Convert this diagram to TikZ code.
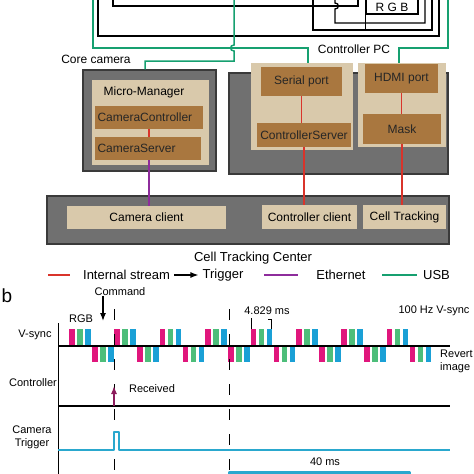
\documentclass[tikz,border=0pt]{standalone}
\usepackage{fontspec}
\setmainfont{Liberation Sans}
\usetikzlibrary{positioning,calc,arrows.meta}

\definecolor{boxgray}{HTML}{707070}
\definecolor{boxedge}{HTML}{3A3A3A}
\definecolor{beige}{HTML}{D9C9AB}
\definecolor{brownmod}{HTML}{A9773F}
\definecolor{usbgreen}{HTML}{16A070}
\definecolor{streamred}{HTML}{D9342B}
\definecolor{etherpurple}{HTML}{8E2C9C}
\definecolor{pulsemag}{HTML}{E0167C}
\definecolor{pulsegreen}{HTML}{4DBE7A}
\definecolor{pulseblue}{HTML}{1AA0D6}
\definecolor{trigcyan}{HTML}{2AA8CE}
\definecolor{recvpurple}{HTML}{8C1C5C}

\tikzset{
  sz/.style 2 args={minimum width=#1, minimum height=#2},
  darkbox/.style={draw=boxedge, fill=boxgray, line width=1.2pt, inner sep=0pt},
  panel/.style={fill=beige, inner sep=0pt},
  module/.style={fill=brownmod, inner sep=0pt, text=black!85, font=\fontsize{12}{14}\selectfont},
  lbl/.style={inner sep=0pt, font=\fontsize{12}{14}\selectfont},
  lgd/.style={inner sep=0pt, font=\fontsize{13}{15}\selectfont},
  tlbl/.style={inner sep=0pt, font=\fontsize{11}{13}\selectfont},
  wire/.style={line width=1.3pt},
  usb/.style={usbgreen, line width=1.5pt},
  internal/.style={streamred, line width=1.3pt},
  ether/.style={etherpurple, line width=1.6pt},
  trig/.style={trigcyan, line width=2pt, line join=round},
  marker/.style={line width=1pt, dash pattern=on 11pt off 14pt},
  tip/.style={-{Latex[length=8pt,width=6pt]}},
}

\begin{document}
\begin{tikzpicture}[x=1pt,y=-1pt]
\useasboundingbox (0,0) rectangle (474,474);

% wires to the light source (cut off at the top)
\node[draw, line width=1.3pt, inner sep=0pt, sz={52pt}{28pt}] (rgb) at (392,0) {};
\node[lbl] (rgbtxt) at (392,7) {R G B};
\coordinate (w2) at (313,30);
\draw[wire] (98,-6) -- (98,36) -- (439,36) -- (439,-6);
\draw[wire] (113,-6) -- (113,6) -- (358,6) -- (358,-6);
\draw[wire] (313,-6) -- (w2) -- (432,30) -- (432,-6);
\draw[wire] (335,-6) -- (335,3) .. controls (339.5,3) and (339.5,9) .. (335,9) -- (335,23) -- (425,23) -- (425,-6);
\draw[wire] (rgb.south west) -- (rgb.south west |- w2);

% Core camera
\node[lbl] (corelbl) at (96,59) {Core camera};
\node[darkbox, sz={133pt}{101pt}] (cambox) at (149.5,120.5) {};
\node[panel, sz={117pt}{85pt}] (mmpanel) at (150.5,122.5) {};
\node[lbl] (mm) at (144,92) {Micro-Manager};
\node[module, sz={108pt}{23pt}, text width=103pt, align=left] (camctrl) at (149,117.5) {CameraController};
\node[module, sz={106pt}{23pt}, text width=101pt, align=left] (camserver) at (148,148.5) {CameraServer};
\draw[internal] (camctrl.south) -- (camctrl.south |- camserver.north);

% Controller PC
\node[lbl] (pclbl) at (354,49) {Controller PC};
\node[darkbox, sz={219pt}{101pt}] (pcbox) at (338.5,123.5) {};
\node[panel, sz={102pt}{87pt}] (serialpanel) at (302,106.5) {};
\node[module, sz={81pt}{29pt}] (serialport) at (301.5,81.5) {Serial port};
\node[module, sz={94pt}{24pt}] (cserver) at (304,135) {ControllerServer};
\node[panel, sz={88pt}{84pt}] (hdmipanel) at (402,105) {};
\node[module, sz={73pt}{29pt}] (hdmiport) at (401.5,78.5) {HDMI port};
\node[module, sz={78pt}{30pt}] (mask) at (402,129) {Mask};

% Cell Tracking Center
\node[darkbox, sz={402pt}{48pt}] (ctcbox) at (248,220) {};
\node[panel, sz={159pt}{23pt}, font=\fontsize{12}{14}\selectfont] (camclient) at (146.5,217.5) {Camera client};
\node[panel, sz={95pt}{24pt}, font=\fontsize{12}{14}\selectfont] (ctrlclient) at (309.5,217) {Controller client};
\node[panel, sz={83pt}{24pt}, font=\fontsize{12}{14}\selectfont] (celltrack) at (404.5,217) {Cell Tracking};
\node[lgd] (ctclbl) at (253,258) {Cell Tracking Center};

% internal streams and ethernet
\draw[internal] (serialport.south) -- (serialport.south |- cserver.north);
\draw[internal] (cserver.south) -- (cserver.south |- ctrlclient.north);
\draw[internal] (hdmiport.south) -- (hdmiport.south |- mask.north);
\draw[internal] (mask.south) -- (mask.south |- celltrack.north);
\draw[ether] (camserver.south -| camctrl.south) -- (camclient.north -| camctrl.south);

% USB lines
\coordinate (usbcam) at (145,61);
\coordinate (usbser) at (308,48);
\coordinate (usbhdmi) at (399,48);
\draw[usb] (cambox.north -| usbcam) -- (usbcam) -- (234,61) -- (234,51) .. controls (229.5,51) and (229.5,45) .. (234,45) -- (234,-6);
\draw[usb] (serialpanel.north -| usbser) -- (usbser) -- (93,48) -- (93,-6);
\draw[usb] (hdmipanel.north -| usbhdmi) -- (usbhdmi) -- (448,48) -- (448,-6);

% legend
\node[lgd] (lgint) at (126.5,275) {Internal stream};
\node[lgd] (lgtrig) at (223,275) {Trigger};
\node[lgd] (lgeth) at (341,275) {Ethernet};
\node[lgd] (lgusb) at (436.5,275) {USB};
\draw[internal] (48,275) -- (70,275);
\draw[line width=1.3pt,tip] ([xshift=4pt]lgint.east) -- ([xshift=-4pt]lgtrig.west);
\draw[ether] (264,275) -- (298,275);
\draw[usb] (382,275) -- (417,275);

% panel b
\node[inner sep=0pt, font=\fontsize{19}{21}\selectfont] (blbl) at (7,296) {b};
\node[tlbl] (cmd) at (120,292) {Command};
\coordinate (cmdtip) at (103,321);
\draw[line width=1.2pt,tip] (cmdtip |- cmd.south) -- (cmdtip);
\node[tlbl] (rgblbl) at (81,319) {RGB};
\node[tlbl] (period) at (267,311) {4.829 ms};
\node[tlbl] (rate) at (434,311) {100 Hz V-sync};
\node[tlbl] (vsync) at (35,335) {V-sync};
\node[tlbl, align=left, anchor=west] (revert) at (440,361.5) {Revert\\image};
\node[tlbl, anchor=east] (ctrl) at (57,383) {Controller};
\node[tlbl] (recv) at (152,389) {Received};
\node[tlbl, align=center] (camtrig) at (32,437.5) {Camera\\Trigger};
\node[tlbl] (forty) at (325,462) {40 ms};

% the V-sync pulses
\foreach \k in {0,...,7} {
  \fill[pulsemag]   ({69+45.4*\k},329) rectangle +(5.5,17);
  \fill[pulsegreen] ({77+45.4*\k},329) rectangle +(5.5,17);
  \fill[pulseblue]  ({85+45.4*\k},329) rectangle +(5.5,17);
  \fill[pulsemag]   ({92+45.4*\k},346) rectangle +(5.5,16);
  \fill[pulsegreen] ({100+45.4*\k},346) rectangle +(5.5,16);
  \fill[pulseblue]  ({108+45.4*\k},346) rectangle +(5.5,16);
}
% axes
\draw[line width=1pt] (58,323) -- (58,480);
\draw[line width=1.2pt] (58,346) -- (450,346);
\draw[line width=1.2pt] (58,406) -- (450,406);
\draw[line width=1pt] (251,318) -- (251,329);
\draw[line width=1pt] (268,319) -- (271,319) -- (271,329);
% markers
\foreach \x in {114,229} {
  \draw[marker] (\x,309) -- (\x,478);
}
\draw[recvpurple, line width=1.2pt, tip] (114,406) -- (114,386);
% trigger lines
\draw[trig] (58,450) -- (114,450) -- (114,432) -- (119,432) -- (119,450) -- (450,450);
\draw[trig, line width=2.5pt] (229,490) -- (229,472.5) -- (410,472.5) -- (410,490);
\end{tikzpicture}
\end{document}
